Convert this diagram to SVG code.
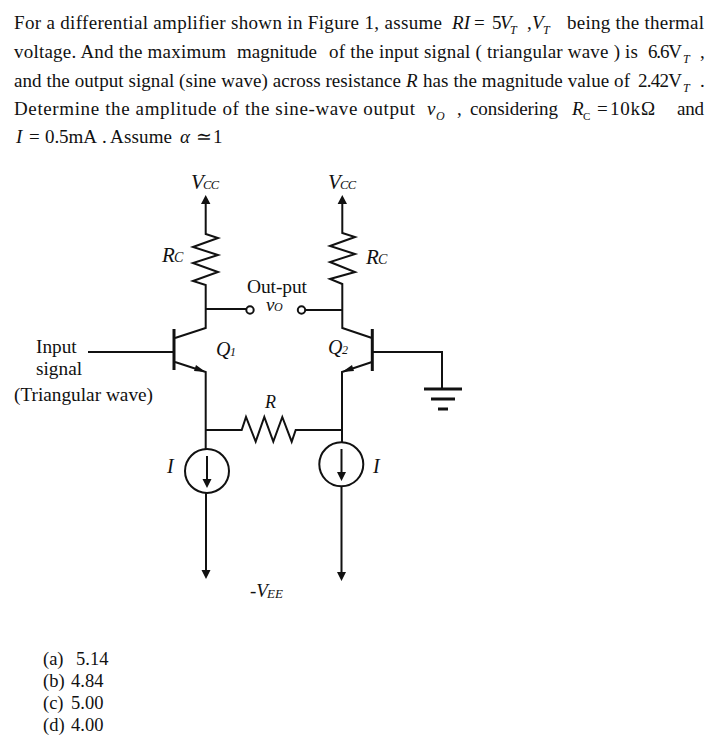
<svg xmlns="http://www.w3.org/2000/svg" width="716" height="748" viewBox="0 0 716 748">
<defs>
<style>
text{font-family:"Liberation Serif","Times New Roman",serif;fill:#111;font-size:19px}
.i{font-style:italic}
.s{font-size:12px;font-style:italic}
.l{font-size:18.5px}
.w{fill:none;stroke:#111;stroke-width:2}
.b{fill:none;stroke:#111;stroke-width:3}
.h{fill:#111;stroke:none}
.n{fill:#fff;stroke:#111;stroke-width:2}
.e{font-size:21px;font-style:italic}
</style>
</defs>
<rect width="716" height="748" fill="#fff"/>
<g id="problem-text">
<text x="14" y="29" textLength="428" lengthAdjust="spacing">For a differential amplifier shown in Figure 1, assume</text>
<text x="452" y="29" class="i" textLength="18">RI</text><text x="474" y="29">=</text><text x="492" y="29">5</text><text x="500" y="29" class="i">V</text>
<text x="510" y="34" class="s">T</text>
<text x="527" y="29">,</text><text x="532" y="29" class="i">V</text>
<text x="543" y="34" class="s">T</text>
<text x="567" y="29" textLength="137" lengthAdjust="spacing">being the thermal</text>
<text x="14" y="58" textLength="212" lengthAdjust="spacing">voltage. And the maximum</text>
<text x="237" y="58" textLength="80" lengthAdjust="spacing">magnitude</text>
<text x="329" y="58" textLength="309" lengthAdjust="spacing">of the input signal ( triangular wave ) is</text>
<text x="648" y="58" textLength="34" lengthAdjust="spacing">6.6V</text>
<text x="683" y="63" class="s">T</text>
<text x="700" y="58">,</text>
<text x="14" y="87" textLength="387" lengthAdjust="spacing">and the output signal (sine wave) across resistance</text>
<text x="406" y="87" class="i">R</text>
<text x="423" y="87" textLength="207" lengthAdjust="spacing">has the magnitude value of</text>
<text x="638" y="87" textLength="44" lengthAdjust="spacing">2.42V</text>
<text x="683" y="92" class="s">T</text>
<text x="700" y="87">.</text>
<text x="14" y="115" textLength="401" lengthAdjust="spacing">Determine the amplitude of the sine-wave output</text>
<text x="427" y="115" class="i">v</text>
<text x="436" y="120" class="s">O</text>
<text x="457" y="115">,</text>
<text x="470" y="115" textLength="88" lengthAdjust="spacing">considering</text>
<text x="572" y="115" class="i">R</text>
<text x="583" y="120" style="font-size:11px">C</text>
<text x="597" y="115">=</text>
<text x="610" y="115" textLength="45" lengthAdjust="spacing">10kΩ</text>
<text x="677" y="115" textLength="27">and</text>
<text x="16" y="143" class="i">I</text>
<text x="29" y="143">=</text>
<text x="45" y="143" textLength="52" lengthAdjust="spacing">0.5mA</text>
<text x="102" y="143">.</text>
<text x="110" y="143" textLength="62" lengthAdjust="spacing">Assume</text>
<text x="180" y="143" class="i">α</text>
<text x="196" y="143">≃</text>
<text x="213" y="143">1</text>
</g>
<g id="connectors">
<path class="w" d="M205.700 200V234L218 238L193 247L218 255L193 263L218 272L193 281L205.700 285V328L175 338"/>
<path class="w" d="M342.300 200V233L355 237L330 246L355 254L330 262L355 272L330 279L342.300 284V328L372 338"/>
<path class="w" d="M205.700 309H246M342.300 310H305.700"/>
<path class="w" d="M88 352H174M175 362L205.700 372V449"/>
<path class="w" d="M372 362L342 372V442M372 352H442V389"/>
<path class="w" d="M205.700 430H241.700L246 417L255.700 441.700L264.300 417L273.300 441.700L282.300 417L291.700 441.700L295.700 430H342"/>
<path class="w" d="M206 493V572M341.500 486V574"/>
<path class="w" d="M207 456V480M341.500 449V472"/>
<path class="h" d="M205.700 195L201 204H210.400ZM342.300 195L337.600 204H347ZM205.700 372L196 365L194 371ZM342 372L352 365L354 371ZM207 488L202.500 479H211.500ZM341.500 481L337 472H346ZM206 579L201.500 570H210.500ZM341.500 581L337 572H346Z"/>
<path class="b" d="M174 329V370M372.300 329V371"/>
<path class="b" d="M424 389H462M431 399H455M438 409H448"/>
</g>
<g id="q1"><text x="216" y="356" class="i" style="font-size:20px">Q</text><text x="230" y="356" class="s">1</text></g>
<g id="q2"><text x="328" y="354" class="i" style="font-size:20px">Q</text><text x="342" y="354" class="s">2</text></g>
<g id="vcc-left"><text x="191" y="189" class="e">V</text><text x="203" y="189" class="i" style="font-size:12.500px" textLength="16">CC</text></g>
<g id="vcc-right"><text x="328" y="189" class="e">V</text><text x="340" y="189" class="i" style="font-size:12.500px" textLength="16">CC</text></g>
<g id="rc-left"><text x="162" y="262" class="e">R</text><text x="174" y="262" class="i" style="font-size:14px">C</text></g>
<g id="rc-right"><text x="366" y="264" class="e">R</text><text x="378" y="264" class="i" style="font-size:14px">C</text></g>
<g id="output">
<text x="247" y="293" style="font-size:19.500px" textLength="60">Out-put</text>
<text x="266" y="311" class="i" style="font-size:19px">v</text><text x="274" y="311" class="i" style="font-size:12px">O</text>
<circle class="n" cx="250" cy="310" r="3.700"/>
<circle class="n" cx="301.500" cy="310" r="3.700"/>
</g>
<g id="input-label">
<text x="36" y="353" style="font-size:19.300px">Input</text>
<text x="36" y="375" style="font-size:19.300px">signal</text>
<text x="14" y="401" style="font-size:19.300px" textLength="139">(Triangular wave)</text>
</g>
<g id="resistor-r"><text x="265" y="408" class="i" style="font-size:18px">R</text></g>
<g id="source-left">
<circle class="w" cx="207" cy="471" r="22"/>
<text x="167" y="473" class="i" style="font-size:20px">I</text>
</g>
<g id="source-right">
<circle class="w" cx="341.300" cy="464.300" r="22"/>
<text x="373" y="473" class="i" style="font-size:20px">I</text>
</g>
<g id="vee"><text x="250" y="597" class="i" style="font-size:19px">-V</text><text x="267" y="598" class="i" style="font-size:13px">EE</text></g>
<g id="answers">
<text x="43" y="665" class="l">(a)</text><text x="76" y="665" class="l">5.14</text>
<text x="43" y="687" class="l">(b)</text><text x="71" y="687" class="l">4.84</text>
<text x="43" y="709" class="l">(c)</text><text x="71" y="709" class="l">5.00</text>
<text x="43" y="731" class="l">(d)</text><text x="71" y="731" class="l">4.00</text>
</g>
</svg>
